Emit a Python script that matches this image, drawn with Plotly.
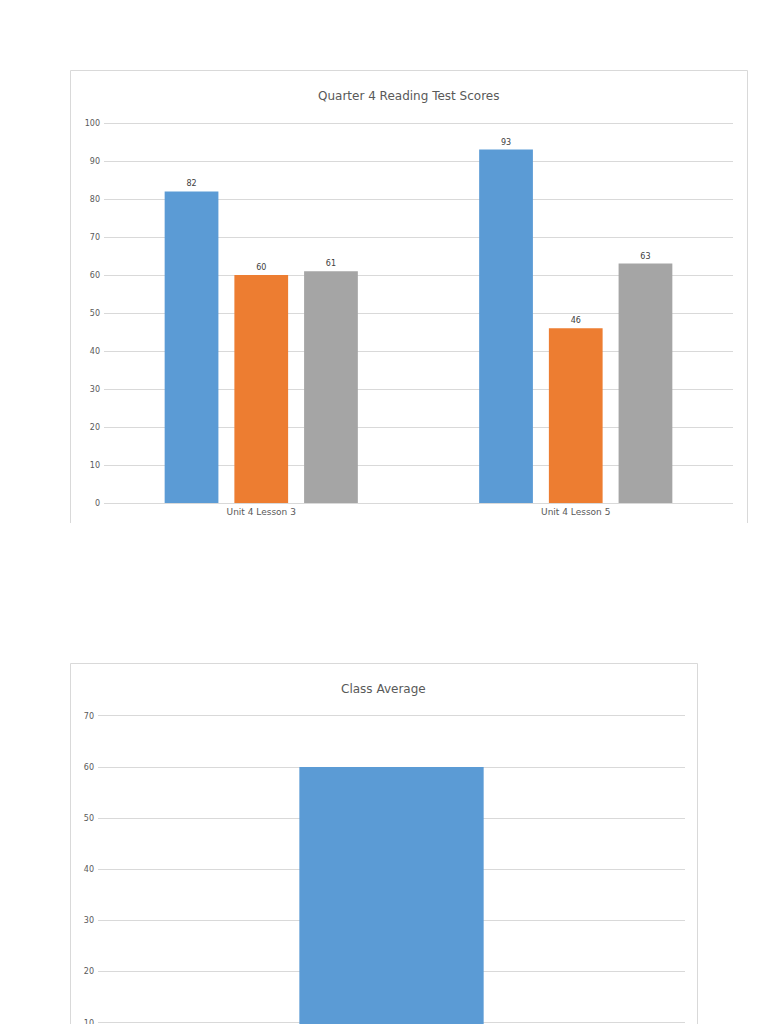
import plotly.graph_objects as go

# ---- data ----
lessons = ["Unit 4 Lesson 3", "Unit 4 Lesson 5"]
series_names = ["Series 1", "Series 2", "Series 3"]
series_values = [
    [82, 93],
    [60, 46],
    [61, 63],
]
series_colors = ["#5B9BD5", "#ED7D31", "#A5A5A5"]

avg_categories = ["Class Average"]
avg_values = [60]

W, H = 768, 1024
def px(x):
    return x / W
def py(y):
    return 1 - y / H

FONT = "DejaVu Sans"
GRID = "#d9d9d9"
TXT = "#595959"

fig = go.Figure()

for name, vals, col in zip(series_names, series_values, series_colors):
    fig.add_trace(go.Bar(
        x=lessons, y=vals, name=name, marker=dict(color=col, line=dict(width=0)),
        text=vals, textposition="outside", cliponaxis=False,
        textfont=dict(size=8, color="#404040", family=FONT),
        xaxis="x", yaxis="y", showlegend=False,
    ))

fig.add_trace(go.Bar(
    x=avg_categories, y=avg_values, name="Class Average",
    marker=dict(color=series_colors[0], line=dict(width=0)),
    width=0.314, xaxis="x2", yaxis="y2", showlegend=False,
))

tickfont = dict(size=8, color=TXT, family=FONT)

fig.update_layout(
    width=W, height=H,
    margin=dict(l=0, r=0, t=0, b=0, autoexpand=False),
    paper_bgcolor="white", plot_bgcolor="white",
    barmode="group", bargap=0.335, bargroupgap=0.229,
    font=dict(family=FONT, color=TXT),
    xaxis=dict(domain=[px(104), px(733)], anchor="y", showgrid=False, automargin=False,
               showline=True, linecolor=GRID, linewidth=1, zeroline=False, ticks="",
               tickfont=dict(size=9, color=TXT, family=FONT)),
    yaxis=dict(domain=[py(503), py(503 - 102 * 3.8)], anchor="x", range=[0, 102], dtick=10,
               automargin=False, showline=False, zeroline=False, ticks="",
               ticklabelstandoff=3, ticklabeloverflow="allow",
               showgrid=True, gridcolor=GRID, gridwidth=1, tickfont=tickfont),
    xaxis2=dict(domain=[px(98), px(685)], anchor="y2", showgrid=False, automargin=False,
                showticklabels=False, range=[-0.5, 0.5], showline=False, zeroline=False, ticks=""),
    yaxis2=dict(domain=[0, py(716 - 1.5 * 5.15)], anchor="x2", range=[9.75, 71.5], dtick=10,
                automargin=False, showline=False, zeroline=False, ticks="",
                ticklabelstandoff=3, ticklabeloverflow="allow",
                showgrid=True, gridcolor=GRID, gridwidth=1, tickfont=tickfont),
)

fig.add_annotation(text="Quarter 4 Reading Test Scores", xref="paper", yref="paper",
                   x=px(408.5), y=py(96), showarrow=False, xanchor="center", yanchor="middle",
                   font=dict(size=12, color=TXT, family=FONT))
fig.add_annotation(text="Class Average", xref="paper", yref="paper",
                   x=px(383.5), y=py(688.5), showarrow=False, xanchor="center", yanchor="middle",
                   font=dict(size=12, color=TXT, family=FONT))

def line(x0, y0, x1, y1):
    fig.add_shape(type="line", xref="paper", yref="paper",
                  x0=px(x0), y0=py(y0), x1=px(x1), y1=py(y1),
                  line=dict(color=GRID, width=1))

# chart frames
line(70.5, 70.5, 747.5, 70.5)
line(70.5, 70.5, 70.5, 523)
line(747.5, 70.5, 747.5, 523)
line(70.5, 663.5, 697.5, 663.5)
line(70.5, 663.5, 70.5, 1024)
line(697.5, 663.5, 697.5, 1024)

fig.write_html("out.html")
